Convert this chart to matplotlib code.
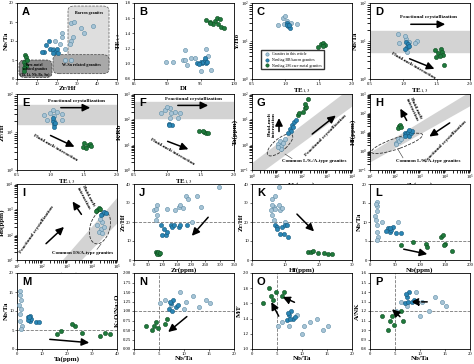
import numpy as np
import matplotlib
matplotlib.use("Agg")
import matplotlib.pyplot as plt
from matplotlib.patches import FancyBboxPatch, Ellipse

# colours for the three sample groups
c_light = "#a7c4d6"
e_light = "#5d8ca6"
c_blue = "#2a86b5"
e_blue = "#17597d"
c_green = "#1f7a3c"
e_green = "#0e4d22"
band = "#d3d3d3"

group_names = ["Granites in this article",
               "Nanling BB barren granites",
               "Nanling 286 rare-metal granites"]

# ---- A: Zr/Hf vs Nb/Ta
a_light_x = [27.2, 28.5, 32, 33.7, 37.8, 27.2, 28, 26.4, 22.3, 22.3, 21.3, 19, 24, 27.2, 24, 18.2]
a_light_y = [14.8, 15, 13.5, 12.2, 13.9, 10.1, 11, 9.3, 12.2, 11, 9.3, 10.1, 5.1, 5.1, 8, 8]
a_blue_x = [14.7, 13.4, 16.6, 18.2, 19, 19.9, 20.7, 15.8, 12.5, 18.2]
a_blue_y = [8.9, 7.2, 8, 7.6, 7.2, 8, 6.8, 10.1, 7.2, 6.8]
a_green_x = [3.9, 4.4, 3.6, 3.9, 4.4, 3.6, 4.9, 3.3]
a_green_y = [6.3, 5.9, 4.6, 3.8, 3.4, 3.0, 5.1, 2.1]

# ---- B: DI vs TE1,3
b_light_x = [89.8, 90.8, 92.3, 92.7, 93, 93.5, 94.2, 95, 95.8, 96.1, 96.6, 92.7]
b_light_y = [1.03, 1.03, 1.05, 1.18, 0.99, 1.07, 1.07, 0.9, 1.2, 1.1, 0.92, 1.05]
b_blue_x = [94.5, 95, 95.2, 95.4, 95.7, 95.8, 94.7, 95.6, 96]
b_blue_y = [1.01, 1.03, 1.01, 1.03, 1.05, 1.01, 1.0, 1.07, 1.03]
b_green_x = [95.8, 96.4, 97.2, 97.5, 97.9, 97.6, 98.1, 98.5, 96.9, 96.4]
b_green_y = [1.57, 1.55, 1.56, 1.6, 1.59, 1.53, 1.48, 1.47, 1.52, 1.54]

# ---- C: TE1,3 vs Y/Ho
c_light_x = [0.89, 0.96, 1.0, 1.03, 1.08, 1.18, 0.98]
c_light_y = [27, 40, 45, 33, 30, 28, 28]
c_blue_x = [1.02, 1.04, 1.07, 1.03, 1.06]
c_blue_y = [30, 25, 22, 26, 27]
c_green_x = [1.49, 1.54, 1.57, 1.60, 1.56]
c_green_y = [6.9, 8.1, 8.9, 7.8, 7.2]

# ---- D: TE1,3 vs Nb/Ta
d_light_x = [0.92, 1.04, 1.02, 1.07, 1.09, 1.21, 1.18, 0.94, 1.05]
d_light_y = [15.1, 11.2, 13.8, 6.9, 9.3, 10.2, 8.7, 8.7, 5.2]
d_blue_x = [1.04, 1.07, 1.05, 1.03, 1.08]
d_blue_y = [9.3, 8.3, 7.1, 6.3, 7.6]
d_green_x = [1.48, 1.56, 1.58, 1.52, 1.59, 1.49, 1.61, 1.55]
d_green_y = [5.8, 6.0, 5.2, 4.8, 4.3, 3.9, 2.4, 4.1]

# ---- E: TE1,3 vs Zr/Hf
e_light_x = [0.9, 1.0, 1.04, 1.06, 1.17, 1.17, 0.95, 1.1, 1.05]
e_light_y = [28, 31, 38, 26, 21, 29, 21, 34, 19]
e_blue_x = [1.04, 1.05, 1.06, 1.04, 1.07]
e_blue_y = [19, 16, 13.5, 23, 17.4]
e_green_x = [1.49, 1.56, 1.59, 1.53, 1.61, 1.51]
e_green_y = [4.1, 4.5, 4.8, 3.7, 4.3, 5.0]

# ---- F: TE1,3 vs K/Rb
f_light_x = [0.97, 1.04, 1.06, 1.11, 1.19, 0.99, 1.04, 1.16, 0.9]
f_light_y = [234, 269, 174, 200, 174, 309, 112, 112, 174]
f_blue_x = [1.03, 1.07, 1.02]
f_blue_y = [66, 59, 59]
f_green_x = [1.48, 1.55, 1.58, 1.53, 1.61]
f_green_y = [35, 33, 28, 36, 30]

# ---- G: Nb vs Ta (ppm)
g_light_x = [11.2, 12.9, 15.1, 14.1, 17.8, 20.4, 10.5]
g_light_y = [1.05, 1.41, 0.91, 0.68, 1.2, 1.62, 0.79]
g_blue_x = [32, 40, 50, 44, 37, 59, 28]
g_blue_y = [4.0, 6.2, 8.1, 5.2, 3.4, 9.5, 3.0]
g_green_x = [69, 107, 126, 145, 170, 79, 126]
g_green_y = [15, 20, 27, 31, 65, 17, 42]

# ---- H: Zr vs Hf (ppm)
h_light_x = [112, 129, 105, 141, 178]
h_light_y = [2.8, 4.2, 2.3, 3.4, 4.5]
h_blue_x = [240, 275, 324, 372, 437, 501, 263, 347]
h_blue_y = [9.1, 7.4, 9.8, 6.2, 8.5, 11, 6.2, 12.6]
h_green_x = [141, 158, 132, 170]
h_green_y = [20, 24, 16, 18]

# ---- I: K vs Rb (ppm)
i_light_x = [16200, 21900, 25700, 19000, 30200, 24000, 20400]
i_light_y = [234, 174, 316, 132, 200, 115, 417]
i_blue_x = [25700, 30200, 21900, 34700]
i_blue_y = [661, 759, 575, 724]
i_green_x = [16200, 19000, 14800, 20400]
i_green_y = [955, 1096, 851, 1023]

# ---- J: Zr vs Zr/Hf
j_light_x = [71, 76, 80, 76, 116, 145, 156, 173, 182, 190, 219, 236, 299, 202, 162, 82]
j_light_y = [26.1, 27, 23.5, 20.9, 26.6, 26.1, 27.8, 27.3, 33.9, 32.2, 33.9, 27.8, 38.3, 20, 28.7, 28.7]
j_blue_x = [93, 105, 111, 99, 128, 133, 156, 162, 185, 116, 139]
j_blue_y = [18.3, 16.5, 13.4, 13.4, 18.3, 17.4, 17.4, 18.3, 18.3, 14.8, 18.3]
j_green_x = [76, 82, 88, 80, 84, 91]
j_green_y = [4.0, 3.5, 3.3, 3.0, 4.3, 3.7]

# ---- K: Hf vs Zr/Hf
k_light_x = [5.6, 6.1, 7, 8, 6.5, 7, 8.5, 9, 6.1, 6.5, 10, 8, 6.1]
k_light_y = [26.1, 32.2, 33.9, 38.3, 27.8, 26.6, 26.1, 27.3, 23.5, 20.9, 20, 28.7, 28.7]
k_blue_x = [7, 7.5, 9, 10, 8.5, 9.5, 10.8, 7.5, 10.5]
k_blue_y = [18.3, 17.4, 17.4, 18.3, 13.9, 13.9, 12.2, 16.5, 18.3]
k_green_x = [16.8, 17.8, 19.7, 21.7, 22.7, 24.1, 18.3]
k_green_y = [4.3, 4.0, 3.5, 3.5, 3.0, 3.0, 4.7]

# ---- L: Nb vs Nb/Ta
l_light_x = [13, 14.4, 13, 9.8, 11.8, 13, 14.4, 23, 55.7, 16.4, 13, 11.8]
l_light_y = [15.2, 14.3, 13, 11.7, 10.4, 9.1, 7.4, 10, 10, 6.1, 5.2, 14.8]
l_blue_x = [36, 39.3, 42.6, 45.9, 52.5, 62.3, 32.8, 39.3]
l_blue_y = [8.3, 7.4, 7.8, 8.7, 7.0, 7.2, 7.6, 8.3]
l_green_x = [62.3, 85, 111.5, 114.8, 141, 145.6, 150.8, 147.5, 164]
l_green_y = [3.9, 4.8, 4.3, 3.5, 6.1, 6.5, 4.3, 3.9, 2.3]

# ---- M: Ta vs Nb/Ta
m_light_x = [1.0, 1.2, 1.4, 0.9, 1.6, 1.1, 1.3, 2.0, 1.5]
m_light_y = [15.2, 14.3, 13, 11.7, 10.4, 9.1, 7.4, 6.1, 5.2]
m_blue_x = [4.3, 5.3, 5.5, 5.3, 7.5, 8.6, 4.3, 4.7]
m_blue_y = [8.3, 7.4, 7.8, 8.7, 7.0, 7.2, 7.6, 8.3]
m_green_x = [16, 17.7, 26, 33, 23, 22, 35, 37, 70]
m_green_y = [3.9, 4.8, 4.3, 3.5, 6.1, 6.5, 4.3, 3.9, 2.3]

# ---- N: Nb/Ta vs K2O/Na2O
n_light_x = [15.2, 14.3, 13, 11.7, 10.4, 9.1, 7.4, 10, 6.1, 5.2]
n_light_y = [1.2, 1.3, 1.1, 1.4, 1.25, 1.5, 1.15, 1.05, 1.3, 1.2]
n_blue_x = [8.3, 7.4, 7.8, 8.7, 7.0, 7.2, 7.6]
n_blue_y = [1.1, 1.2, 1.3, 1.15, 1.05, 1.25, 1.0]
n_green_x = [3.9, 4.8, 4.3, 3.5, 6.1, 6.5, 2.3]
n_green_y = [0.6, 0.55, 0.7, 0.5, 0.65, 0.8, 0.6]

# ---- O: Nb/Ta vs M/F
o_light_x = [15.2, 14.3, 13, 11.7, 10.4, 9.1, 7.4, 10, 6.1, 5.2]
o_light_y = [1.3, 1.25, 1.4, 1.35, 1.3, 1.45, 1.3, 1.2, 1.35, 1.3]
o_blue_x = [8.3, 7.4, 7.8, 8.7, 7.0, 7.2, 7.6]
o_blue_y = [1.4, 1.45, 1.5, 1.42, 1.38, 1.47, 1.4]
o_green_x = [3.9, 4.8, 4.3, 3.5, 6.1, 6.5, 2.3]
o_green_y = [1.7, 1.75, 1.65, 1.8, 1.7, 1.75, 1.6]

# ---- P: Nb/Ta vs A/NK
p_light_x = [15.2, 14.3, 13, 11.7, 10.4, 9.1, 7.4, 10, 6.1, 5.2]
p_light_y = [1.25, 1.3, 1.35, 1.2, 1.3, 1.4, 1.25, 1.15, 1.3, 1.2]
p_blue_x = [8.3, 7.4, 7.8, 8.7, 7.0, 7.2, 7.6]
p_blue_y = [1.3, 1.35, 1.4, 1.32, 1.28, 1.38, 1.3]
p_green_x = [3.9, 4.8, 4.3, 3.5, 6.1, 6.5, 2.3]
p_green_y = [1.1, 1.05, 1.15, 1.0, 1.2, 1.1, 1.15]

plt.rcParams["font.family"] = ["Liberation Serif", "DejaVu Serif"]
plt.rcParams["mathtext.fontset"] = "stix"

fig = plt.figure(figsize=(4.74, 3.64), dpi=100)

lefts = [17, 134, 252, 370]
tops = [3, 94, 184, 273]
W, H = 100, 76


def make_ax(row, col):
    l = lefts[col] / 474
    b = 1 - (tops[row] + H) / 364
    ax = fig.add_axes([l, b, W / 474, H / 364])
    ax.tick_params(labelsize=3.4, length=1.5, width=0.4, pad=0.8)
    for s in ax.spines.values():
        s.set_linewidth(0.6)
    return ax


def groups(ax, lx, ly, bx, by, gx, gy):
    ax.scatter(lx, ly, s=9, c=c_light, edgecolors=e_light, linewidths=0.4, zorder=5, label=group_names[0])
    ax.scatter(bx, by, s=9, c=c_blue, edgecolors=e_blue, linewidths=0.4, zorder=5, label=group_names[1])
    ax.scatter(gx, gy, s=9, c=c_green, edgecolors=e_green, linewidths=0.4, zorder=5, label=group_names[2])


def labels(ax, letter, xl, yl):
    ax.set_xlabel(xl, fontsize=5, fontweight="bold", labelpad=0)
    ax.set_ylabel(yl, fontsize=5, fontweight="bold", labelpad=0.5)
    ax.text(0.05, 0.95, letter, transform=ax.transAxes, fontsize=8, fontweight="bold",
            family="Liberation Sans", va="top", ha="left", zorder=10)


def arrow(ax, start, end, ls="-"):
    ax.annotate("", xy=end, xytext=start, xycoords="axes fraction", textcoords="axes fraction",
                arrowprops=dict(arrowstyle="-|>,head_width=0.22,head_length=0.45", lw=1.1,
                                color="black", linestyle=ls), zorder=8)


def note(ax, x, y, s, rot=0, fs=3.8):
    ax.text(x, y, s, transform=ax.transAxes, fontsize=fs, fontweight="bold", rotation=rot,
            ha="center", va="center", zorder=9)


TE = "TE$_{1,3}$"

# A
ax = make_ax(0, 0)
ax.add_patch(FancyBboxPatch((0.51, 0.15), 0.41, 0.81, boxstyle="round,pad=0,rounding_size=0.06",
                            transform=ax.transAxes, fc="#dedede", ec="#555555", ls="--", lw=0.5))
ax.add_patch(FancyBboxPatch((0.36, 0.07), 0.56, 0.25, boxstyle="round,pad=0,rounding_size=0.06",
                            transform=ax.transAxes, fc="#a9a9a9", ec="#444444", ls="--", lw=0.5))
ax.add_patch(FancyBboxPatch((0.02, 0.02), 0.33, 0.23, boxstyle="round,pad=0,rounding_size=0.06",
                            transform=ax.transAxes, fc="#8a8a8a", ec="#333333", ls="--", lw=0.5))
note(ax, 0.72, 0.87, "Barren granites", fs=3)
note(ax, 0.64, 0.19, "W-Sn related granites", fs=3)
note(ax, 0.18, 0.13, "Rare-metal\nrelated granites\n(Ta, Li, Nb, Be, Sn)", fs=2.6)
groups(ax, a_light_x, a_light_y, a_blue_x, a_blue_y, a_green_x, a_green_y)
ax.set_xlim(0, 50)
ax.set_ylim(0, 20)
ax.set_xticks([0, 10, 20, 30, 40, 50])
ax.set_yticks([0, 5, 10, 15, 20])
labels(ax, "A", "Zr/Hf", "Nb/Ta")

# B
ax = make_ax(0, 1)
groups(ax, b_light_x, b_light_y, b_blue_x, b_blue_y, b_green_x, b_green_y)
ax.set_xlim(85, 100)
ax.set_ylim(0.8, 1.8)
ax.set_xticks([85, 90, 95, 100])
ax.set_yticks([0.8, 1.0, 1.2, 1.4, 1.6, 1.8])
labels(ax, "B", "DI", TE)

# C
ax = make_ax(0, 2)
groups(ax, c_light_x, c_light_y, c_blue_x, c_blue_y, c_green_x, c_green_y)
ax.set_yscale("log")
ax.set_xlim(0.5, 2.0)
ax.set_ylim(1, 100)
ax.set_xticks([0.5, 1.0, 1.5, 2.0])
ax.legend(loc="lower left", bbox_to_anchor=(0.07, 0.1), fontsize=2.8, frameon=True, fancybox=False,
          edgecolor="black", handletextpad=0.3, borderpad=0.5, labelspacing=0.5, markerscale=0.8)
labels(ax, "C", TE, "Y/Ho")

# D
ax = make_ax(0, 3)
ax.axhspan(10 ** 0.72, 10 ** 1.27, color=band, zorder=0)
groups(ax, d_light_x, d_light_y, d_blue_x, d_blue_y, d_green_x, d_green_y)
ax.set_yscale("log")
ax.set_xlim(0.5, 2.0)
ax.set_ylim(1, 100)
ax.set_xticks([0.5, 1.0, 1.5, 2.0])
arrow(ax, (0.38, 0.72), (0.78, 0.72))
note(ax, 0.58, 0.81, "Fractional crystallization")
arrow(ax, (0.37, 0.28), (0.67, 0.12))
note(ax, 0.43, 0.17, "Fluid-melt interaction", rot=-30)
labels(ax, "D", TE, "Nb/Ta")

# E
ax = make_ax(1, 0)
ax.axhspan(10 ** 1.2, 10 ** 1.7, color=band, zorder=0)
groups(ax, e_light_x, e_light_y, e_blue_x, e_blue_y, e_green_x, e_green_y)
ax.set_yscale("log")
ax.set_xlim(0.5, 2.0)
ax.set_ylim(1, 100)
ax.set_xticks([0.5, 1.0, 1.5, 2.0])
arrow(ax, (0.41, 0.82), (0.76, 0.82))
note(ax, 0.6, 0.91, "Fractional crystallization")
arrow(ax, (0.31, 0.47), (0.6, 0.29))
note(ax, 0.38, 0.29, "Fluid-melt interaction", rot=-30)
labels(ax, "E", TE, "Zr/Hf")

# F
ax = make_ax(1, 1)
ax.axhspan(10 ** 2.05, 10 ** 2.68, color=band, zorder=0)
groups(ax, f_light_x, f_light_y, f_blue_x, f_blue_y, f_green_x, f_green_y)
ax.set_yscale("log")
ax.set_xlim(0.5, 2.0)
ax.set_ylim(1, 1000)
ax.set_xticks([0.5, 1.0, 1.5, 2.0])
arrow(ax, (0.41, 0.85), (0.77, 0.85))
note(ax, 0.6, 0.93, "Fractional crystallization")
arrow(ax, (0.31, 0.39), (0.57, 0.26))
note(ax, 0.38, 0.24, "Fluid-melt interaction", rot=-30)
labels(ax, "F", TE, "K/Rb")

# G
ax = make_ax(1, 2)
lx = np.array([0.0, 4.0])
ax.fill_between(10 ** lx, 10 ** (0.75 * lx - 0.7), 10 ** (0.72 * lx - 1.35), color=band, lw=0, zorder=0)
ax.add_patch(Ellipse((0.28, 0.33), 0.36, 0.14, angle=50, transform=ax.transAxes, fill=False,
                     ls="--", lw=0.6, ec="#333333", zorder=4))
groups(ax, g_light_x, g_light_y, g_blue_x, g_blue_y, g_green_x, g_green_y)
ax.set_xscale("log")
ax.set_yscale("log")
ax.set_xlim(1, 1e4)
ax.set_ylim(0.1, 100)
arrow(ax, (0.27, 0.47), (0.27, 0.72))
note(ax, 0.2, 0.6, "Fluid-melt\ninteraction", rot=90)
arrow(ax, (0.58, 0.45), (0.86, 0.74))
note(ax, 0.74, 0.45, "Fractional crystallization", rot=45)
note(ax, 0.62, 0.12, "Common I-/S-/A-type granites", fs=3.6)
ax.plot([0.33, 0.4], [0.21, 0.15], transform=ax.transAxes, color="#333333", lw=0.4)
labels(ax, "G", "Nb(ppm)", "Ta(ppm)")

# H
ax = make_ax(1, 3)
lx = np.array([0.0, 5.0])
ax.fill_between(10 ** lx, 10 ** (0.8 * (lx - 1) - 0.06), 10 ** (0.74 * (lx - 1) - 0.57), color=band, lw=0, zorder=0)
ax.add_patch(Ellipse((0.27, 0.35), 0.56, 0.14, angle=25, transform=ax.transAxes, fill=False,
                     ls="--", lw=0.6, ec="#333333", zorder=4))
groups(ax, h_light_x, h_light_y, h_blue_x, h_blue_y, h_green_x, h_green_y)
ax.set_xscale("log")
ax.set_yscale("log")
ax.set_xlim(10, 1e5)
ax.set_ylim(0.1, 1000)
arrow(ax, (0.38, 0.62), (0.29, 0.84))
note(ax, 0.44, 0.8, "Fluid-melt\ninteraction", rot=-65)
arrow(ax, (0.82, 0.64), (0.57, 0.42))
note(ax, 0.76, 0.38, "Fractional crystallization", rot=45)
note(ax, 0.58, 0.12, "Common I-/S-/A-type granites", fs=3.6)
ax.plot([0.28, 0.33], [0.27, 0.16], transform=ax.transAxes, color="#333333", lw=0.4)
labels(ax, "H", "Zr(ppm)", "Hf(ppm)")

# I
ax = make_ax(2, 0)
lx = np.array([1.0, 5.0])
ax.fill_between(10 ** lx, 10 ** (1.13 * (lx - 2.84) + 1.04), 10 ** (1.02 * (lx - 3.56) + 1.0), color=band, lw=0, zorder=0)
ax.add_patch(Ellipse((0.83, 0.43), 0.44, 0.2, angle=80, transform=ax.transAxes, fill=False,
                     ls="--", lw=0.6, ec="#333333", zorder=4))
groups(ax, i_light_x, i_light_y, i_blue_x, i_blue_y, i_green_x, i_green_y)
ax.set_xscale("log")
ax.set_yscale("log")
ax.set_xlim(10, 1e5)
ax.set_ylim(10, 1e4)
arrow(ax, (0.27, 0.19), (0.49, 0.46))
note(ax, 0.2, 0.4, "Fractional crystallization", rot=55)
arrow(ax, (0.66, 0.57), (0.54, 0.8))
note(ax, 0.69, 0.82, "Fluid-melt\ninteraction", rot=-62)
note(ax, 0.66, 0.09, "Common I/S/A-type granites", fs=3.6)
ax.plot([0.8, 0.84], [0.14, 0.21], transform=ax.transAxes, color="#333333", lw=0.4)
labels(ax, "I", "K(ppm)", "Rb(ppm)")

# J
ax = make_ax(2, 1)
ax.axhline(20, color="#777777", ls="--", lw=0.6, zorder=1)
groups(ax, j_light_x, j_light_y, j_blue_x, j_blue_y, j_green_x, j_green_y)
ax.set_xlim(0, 350)
ax.set_ylim(0, 40)
ax.set_xticks([0, 50, 100, 150, 200, 250, 300, 350])
ax.set_yticks([0, 10, 20, 30, 40])
arrow(ax, (0.76, 0.59), (0.56, 0.29))
labels(ax, "J", "Zr(ppm)", "Zr/Hf")

# K
ax = make_ax(2, 2)
ax.axhline(20, color="#777777", ls="--", lw=0.6, zorder=1)
groups(ax, k_light_x, k_light_y, k_blue_x, k_blue_y, k_green_x, k_green_y)
ax.set_xlim(0, 30)
ax.set_ylim(0, 40)
ax.set_xticks([0, 10, 20, 30])
ax.set_yticks([0, 10, 20, 30, 40])
arrow(ax, (0.43, 0.63), (0.64, 0.35))
labels(ax, "K", "Hf(ppm)", "Zr/Hf")

# L
ax = make_ax(2, 3)
ax.axhline(5, color="#777777", ls="--", lw=0.6, zorder=1)
groups(ax, l_light_x, l_light_y, l_blue_x, l_blue_y, l_green_x, l_green_y)
ax.set_xlim(0, 200)
ax.set_ylim(0, 20)
ax.set_xticks([0, 50, 100, 150, 200])
ax.set_yticks([0, 5, 10, 15, 20])
arrow(ax, (0.31, 0.15), (0.6, 0.07))
labels(ax, "L", "Nb(ppm)", "Nb/Ta")

# M
ax = make_ax(3, 0)
ax.axhline(5, color="#777777", ls="--", lw=0.6, zorder=1)
groups(ax, m_light_x, m_light_y, m_blue_x, m_blue_y, m_green_x, m_green_y)
ax.set_xlim(0, 40)
ax.set_ylim(0, 20)
ax.set_xticks([0, 10, 20, 30, 40])
ax.set_yticks([0, 5, 10, 15, 20])
arrow(ax, (0.3, 0.13), (0.75, 0.08))
labels(ax, "M", "Ta(ppm)", "Nb/Ta")

# N
ax = make_ax(3, 1)
ax.axhline(1, color="#777777", ls="--", lw=0.6, zorder=1)
ax.axvline(5, color="#777777", ls="--", lw=0.6, zorder=1)
groups(ax, n_light_x, n_light_y, n_blue_x, n_blue_y, n_green_x, n_green_y)
ax.set_xlim(0, 20)
ax.set_ylim(0, 2)
ax.set_xticks([0, 5, 10, 15, 20])
arrow(ax, (0.55, 0.45), (0.32, 0.2))
labels(ax, "N", "Nb/Ta", "K$_2$O/Na$_2$O")

# O
ax = make_ax(3, 2)
ax.axvline(5, color="#777777", ls="--", lw=0.6, zorder=1)
groups(ax, o_light_x, o_light_y, o_blue_x, o_blue_y, o_green_x, o_green_y)
ax.set_xlim(0, 20)
ax.set_ylim(1.0, 2.0)
ax.set_xticks([0, 5, 10, 15, 20])
arrow(ax, (0.45, 0.6), (0.28, 0.7), ls="--")
arrow(ax, (0.28, 0.4), (0.18, 0.65))
labels(ax, "O", "Nb/Ta", "M/F")

# P
ax = make_ax(3, 3)
ax.axvline(5, color="#777777", ls="--", lw=0.6, zorder=1)
ax.axhline(1.2, color="#777777", ls="--", lw=0.6, zorder=1)
groups(ax, p_light_x, p_light_y, p_blue_x, p_blue_y, p_green_x, p_green_y)
ax.set_xlim(0, 20)
ax.set_ylim(0.8, 1.6)
ax.set_xticks([0, 5, 10, 15, 20])
arrow(ax, (0.6, 0.62), (0.38, 0.62), ls="--")
arrow(ax, (0.32, 0.4), (0.2, 0.55))
labels(ax, "P", "Nb/Ta", "A/NK")

fig.savefig("out.png", dpi=100)
